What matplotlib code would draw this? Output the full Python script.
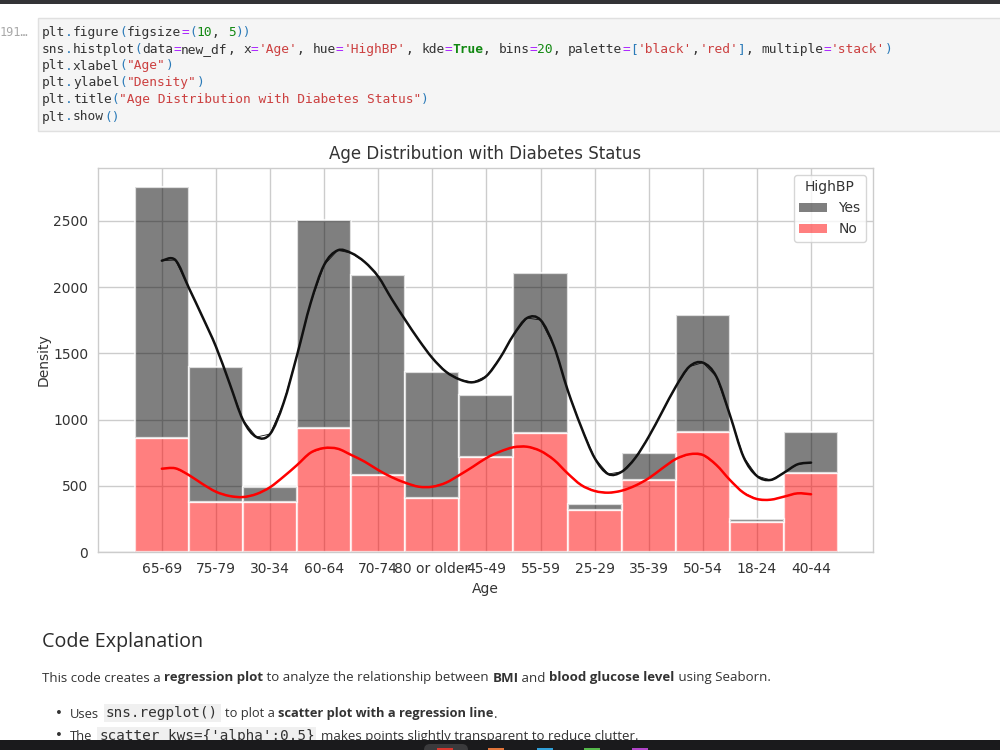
import matplotlib
matplotlib.use("Agg")
import matplotlib.pyplot as plt
from matplotlib.patches import Rectangle, Patch, FancyBboxPatch, PathPatch
from matplotlib.path import Path
import numpy as np

ages = ['65-69','75-79','30-34','60-64','70-74','80 or older','45-49','55-59','25-29','35-39','50-54','18-24','40-44']
no_counts = [860,375,380,935,585,405,720,900,315,545,910,225,600]
yes_counts = [1895,1025,110,1575,1505,955,465,1210,45,200,880,25,305]

kde_x = [i*0.25 for i in range(49)]
kde_yes = [2200,2205,1994,1777,1551,1276,997,868,891,1125,1488,1880,2168,2278,2258,2190,2080,1910,1752,1601,1465,1362,1304,1282,1329,1465,1639,1767,1752,1551,1224,946,710,589,606,710,871,1060,1249,1400,1430,1324,1035,720,574,544,599,662,675]
kde_no = [629,632,581,514,455,423,415,438,489,569,657,750,785,780,733,682,619,565,523,493,493,523,581,644,710,758,791,795,763,695,594,506,461,448,463,501,557,632,702,738,733,657,544,448,400,395,418,443,436]

y_ticks = [0,500,1000,1500,2000,2500]

MONO = 'DejaVu Sans Mono'
BODY = 'Open Sans'

D='#333333'; P='#aa22ff'; B='#2a7ab8'; G='#118811'; R='#cc4040'; K='#118811'
code_lines = [
 [('plt',D),('.',B),('figure',D),('(',B),('figsize',D),('=',P),('(',B),('10',G),(', ',D),('5',G),('))',B)],
 [('sns',D),('.',B),('histplot',D),('(',B),('data',D),('=',P),('new_df',D),(', ',D),('x',D),('=',P),("'Age'",R),(', ',D),('hue',D),('=',P),("'HighBP'",R),(', ',D),('kde',D),('=',P),('True*',K),(', ',D),('bins',D),('=',P),('20',G),(', ',D),('palette',D),('=',P),('[',B),("'black'",R),(',',D),("'red'",R),(']',B),(', ',D),('multiple',D),('=',P),("'stack'",R),(')',B)],
 [('plt',D),('.',B),('xlabel',D),('(',B),('"Age"',R),(')',B)],
 [('plt',D),('.',B),('ylabel',D),('(',B),('"Density"',R),(')',B)],
 [('plt',D),('.',B),('title',D),('(',B),('"Age Distribution with Diabetes Status"',R),(')',B)],
 [('plt',D),('.',B),('show',D),('()',B)],
]
code_y = [36,53,69.5,86,103,120.5]

fig = plt.figure(figsize=(10,7.5), dpi=100, facecolor='white')

bg = fig.add_axes([0,0,1,1], zorder=0)
bg.set_xlim(0,1000); bg.set_ylim(750,0); bg.axis('off')
bg.add_patch(Rectangle((0,0),1000,4,fc='#333336',ec='none'))
bg.add_patch(Rectangle((37.5,17.5),970,113,fc='#f5f5f5',ec='#e0e0e0',lw=1))
bg.text(0,36,'191…',family=MONO,fontsize=8.6,color='#a8a8a8',va='baseline')
cw = 7.735
for line,y in zip(code_lines,code_y):
    x = 42
    for tok,col in line:
        bold = tok.endswith('*')
        tok = tok.rstrip('*')
        if tok.strip():
            bg.text(x,y,tok,family=MONO,fontsize=9.25,color=col,va='baseline',ha='left',
                    fontweight='bold' if bold else 'normal')
        x += cw*len(tok)

fig.canvas.draw()
rend = fig.canvas.get_renderer()
def run(x,y,segs,size=10.0,color='#333333'):
    for s,w in segs:
        t = bg.text(x,y,s,fontsize=size,family=BODY,fontweight=w,color=color,va='baseline',ha='left',zorder=3)
        x += t.get_window_extent(rend).width
    return x

bg.text(42,647,'Code Explanation',family=BODY,fontsize=14.2,color='#2b2b2b',va='baseline')
run(42,681.5,[('This code creates a ','normal'),('regression plot','bold'),(' to analyze the relationship between ','normal'),('BMI','bold'),(' and ','normal'),('blood glucose level','bold'),(' using Seaborn.','normal')],size=9.55)
bg.add_patch(Rectangle((103.5,704),117.5,18,fc='#f0f0f0',ec='none',zorder=1))
bg.add_patch(Rectangle((97,727),219,20,fc='#f0f0f0',ec='none',zorder=1))
bg.text(55,713,'•',fontsize=9.5,color='#333333',va='center',ha='left')
bg.text(55,735.5,'•',fontsize=9.5,color='#333333',va='center',ha='left')
run(70,717.5,[('Uses','normal')],size=9.4)
bg.text(106,717.5,'sns.regplot()',family=MONO,fontsize=10.4,color='#333333',va='baseline')
run(225,717.5,[('to plot a ','normal'),('scatter plot with a regression line','bold'),('.','normal')],size=9.3)
run(70,740,[('The','normal')],size=9.4)
bg.text(100,740,"scatter_kws={'alpha':0.5}",family=MONO,fontsize=10.4,color='#333333',va='baseline')
run(321,740,[('makes points slightly transparent to reduce clutter.','normal')],size=9.5)
bg.add_patch(Rectangle((0,740),1000,10,fc='#1a1a1c',ec='none',zorder=5))
bg.add_patch(FancyBboxPatch((424,744),44,12,boxstyle='round,pad=0,rounding_size=6',fc='#3a3a3c',ec='none',zorder=6))
for xc,c in [(445,'#d8352c'),(496,'#e0743a'),(545,'#2f9fd8'),(592,'#55b84a'),(640,'#b044c8')]:
    bg.add_patch(Rectangle((xc-8,748),16,2,fc=c,ec='none',zorder=6))

ax = fig.add_axes([0.098,(750-552)/750,0.775,384/750], zorder=1)
ax.set_facecolor('white')
ax.set_axisbelow(True)
ax.grid(True,color='#cccccc',lw=1)
for s in ax.spines.values():
    s.set_color('#cccccc'); s.set_linewidth(1.0)
x = np.arange(len(ages))
ax.bar(x,no_counts,width=1,color=(1,0,0,0.5),edgecolor=(1,1,1,0.75),linewidth=1.6)
ax.bar(x,yes_counts,bottom=no_counts,width=1,color=(0,0,0,0.5),edgecolor=(1,1,1,0.75),linewidth=1.6)

def smooth_line(xs,ys,color):
    # the read values as a line, rounded off by a Bezier path through the same values
    ax.plot(xs,ys,color=color,lw=0.6,zorder=4)
    p = np.column_stack([xs,ys]).astype(float)
    p = np.vstack([p[0],p,p[-1]])
    verts=[p[1]]; codes=[Path.MOVETO]
    for i in range(1,len(p)-2):
        verts += [p[i]+(p[i+1]-p[i-1])/6, p[i+1]-(p[i+2]-p[i])/6, p[i+1]]
        codes += [Path.CURVE4]*3
    ax.add_patch(PathPatch(Path(verts,codes),fc='none',ec=color,lw=1.8,capstyle='round',zorder=4))

smooth_line(kde_x,kde_yes,'#111111')
smooth_line(kde_x,kde_no,'#ff0000')
ax.set_xlim(-1.18,13.145); ax.set_ylim(0,2900)
ax.set_xticks(x); ax.set_xticklabels(ages)
ax.set_yticks(y_ticks)
ax.tick_params(length=0,labelsize=10,labelcolor='#333333',pad=7)
ax.set_xlabel('Age',fontsize=10,color='#333333',labelpad=4.5)
ax.set_ylabel('Density',fontsize=10,color='#333333',labelpad=2)
ax.set_title('Age Distribution with Diabetes Status',fontsize=12,color='#333333',pad=6.5)
h=[Patch(fc=(0,0,0,0.5),ec='none'),Patch(fc=(1,0,0,0.5),ec='none')]
leg=ax.legend(h,['Yes','No'],title='HighBP',loc='upper right',fontsize=10,title_fontsize=10,labelcolor='#333333',edgecolor='#cccccc',framealpha=0.8)
leg.get_title().set_color('#333333')
leg.set_zorder(5)

fig.savefig('out.png',dpi=100)
